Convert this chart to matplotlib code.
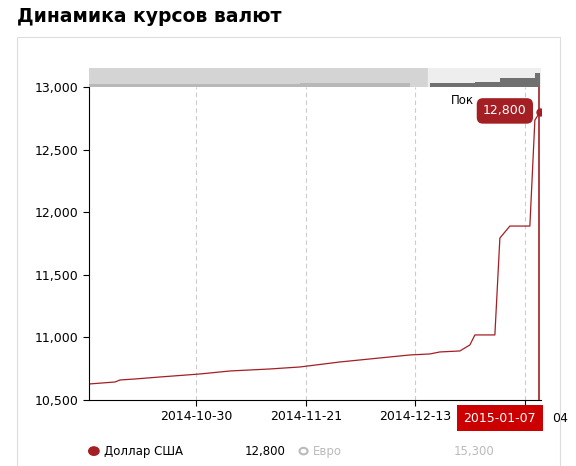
import matplotlib.pyplot as plt
import matplotlib.patches as mpatches
import numpy as np

# day index (5 px per day) and USD rate
days = [0, 5.2, 6.2, 9.2, 14.2, 22.2, 28.2, 36.2, 42.2, 50.2, 58.2, 64.2, 68.2,
        70.2, 74.2, 76.2, 77.2, 81.2, 82.2, 84.2, 88.2, 89.2, 90.2]
usd = [10628, 10644, 10660, 10668, 10684, 10708, 10732, 10748, 10764, 10804,
       10836, 10860, 10868, 10884, 10892, 10940, 11020, 11020, 11794, 11890,
       11890, 12736, 12800]
tick_pos = [21.4, 43.4, 65.2, 87.2]
tick_labels = ['2014-10-30', '2014-11-21', '2014-12-13', '']
yticks = [10500, 11000, 11500, 12000, 12500, 13000]

red = '#a31f24'
fig = plt.figure(figsize=(5.76, 4.66), dpi=100)
fig.text(0.03, 0.965, 'Динамика курсов валют', fontsize=13.5, fontweight='bold', va='center')
fig.patches.append(mpatches.Rectangle((0.03, -0.01), 0.943, 0.93, transform=fig.transFigure,
                                      fill=False, edgecolor='#dddddd', lw=0.8))

ax = fig.add_axes([0.1545, 0.1416, 0.7845, 0.6714])
ax.plot(days, usd, color=red, lw=0.9)
ax.plot(days[-1], usd[-1], 'o', color=red, ms=5)
ax.axvline(90.0, color=red, lw=1.2)
ax.set_xlim(0, 90.4)
ax.set_ylim(10500, 13000)
ax.set_yticks(yticks, [f'{v:,}' for v in yticks])
ax.set_xticks(tick_pos, tick_labels)
for t in tick_pos:
    ax.axvline(t, color='#cccccc', lw=0.8, ls=(0, (4, 3)), zorder=0)
ax.tick_params(labelsize=9, length=4)
ax.annotate('2015-01-07', (82.2, 10500), xytext=(0, -13), textcoords='offset points',
            fontsize=9, color='white', ha='center', va='center', annotation_clip=False,
            bbox=dict(boxstyle='square,pad=0.55', fc='#cc0000', ec='none'))
ax.annotate('04', (92.6, 10500), xytext=(0, -13), textcoords='offset points',
            fontsize=9, ha='left', va='center', annotation_clip=False)
for s in ['top', 'right']:
    ax.spines[s].set_visible(False)
ax.text(72.4, 12895, 'Пок', fontsize=8.5, va='center')
ax.text(83.2, 12810, '12,800', fontsize=9, color='white', ha='center', va='center',
        bbox=dict(boxstyle='round,pad=0.5', fc=red, ec='none'))

# navigator strip
nav = fig.add_axes([0.1545, 0.813, 0.7845, 0.041])
nav.set_xlim(0, 90.4)
nav.set_ylim(0, 1)
nav.axvspan(0, 67.8, color='#d4d4d4')
nav.axvspan(67.8, 90.4, color='#eeeeee')
nd = np.array(days)
nu = 0.15 + (np.array(usd) - 10600) / 2200 * 0.6
nav.fill_between(nd, 0, nu, where=nd <= 67.8, color='#b8b8b8', lw=0, step='post')
nav.fill_between(nd, 0, nu, where=nd >= 67.8, color='#707070', lw=0, step='post')
nav.axis('off')

fig.patches.append(mpatches.Circle((0.163, 0.032), 0.009, transform=fig.transFigure, color=red))
fig.text(0.18, 0.032, 'Доллар США', fontsize=8.5, va='center')
fig.text(0.425, 0.032, '12,800', fontsize=8.5, va='center')
fig.patches.append(mpatches.Circle((0.527, 0.032), 0.007, transform=fig.transFigure,
                                   fill=False, ec='#bbbbbb', lw=1.5))
fig.text(0.543, 0.032, 'Евро', fontsize=8.5, va='center', color='#bbbbbb')
fig.text(0.787, 0.032, '15,300', fontsize=8.5, va='center', color='#bbbbbb')

fig.savefig('out.png', dpi=100)
